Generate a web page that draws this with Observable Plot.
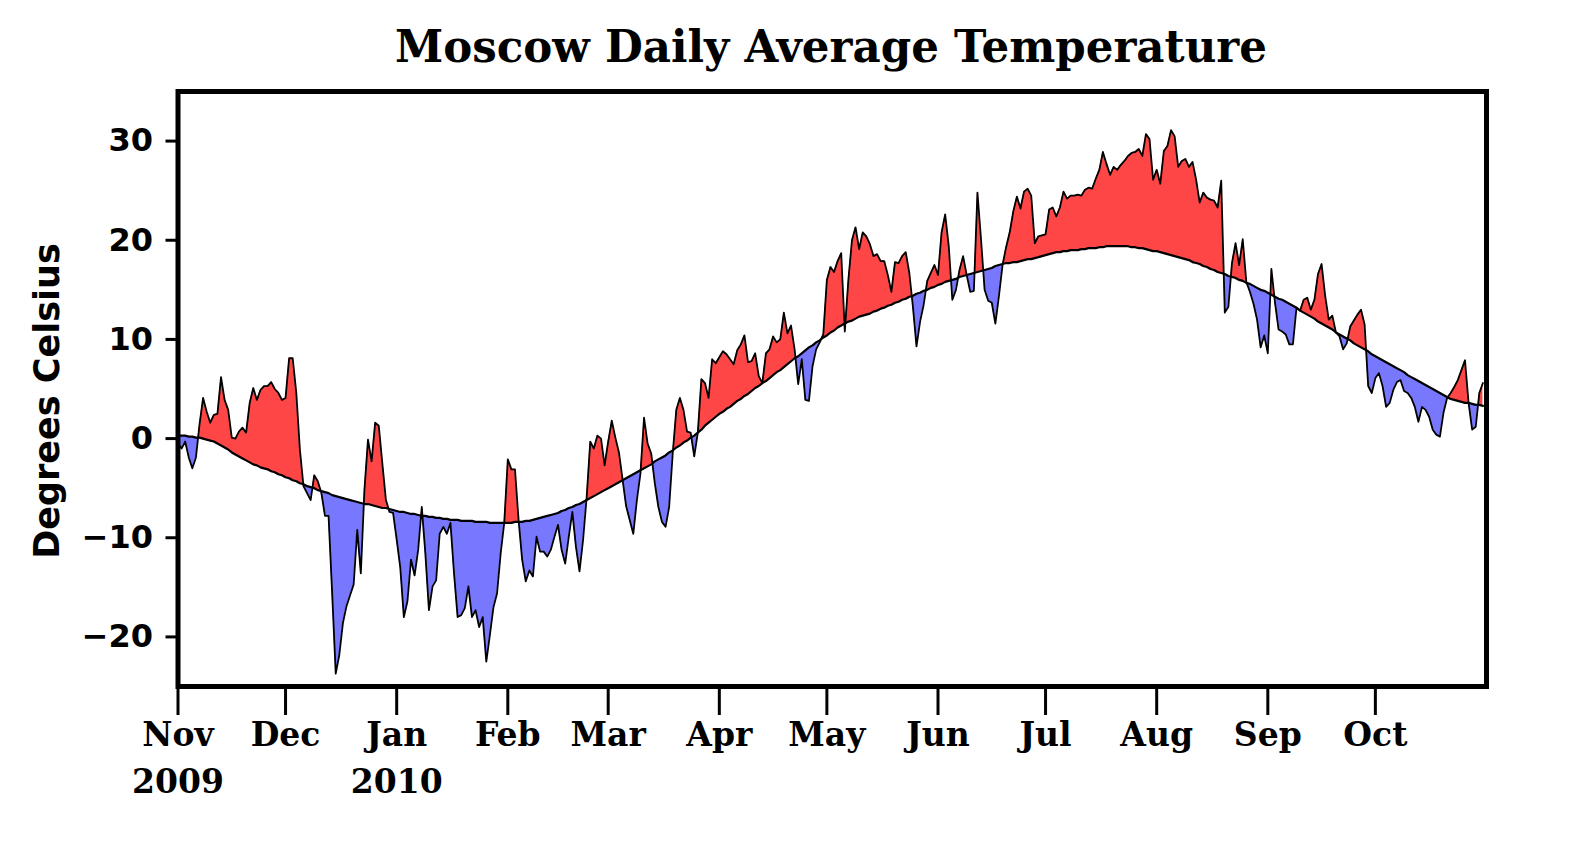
<!DOCTYPE html>
<html>
<head>
<meta charset="utf-8">
<script src="https://cdn.jsdelivr.net/npm/d3@7"></script>
<script src="https://cdn.jsdelivr.net/npm/@observablehq/plot@0.6"></script>
<style>
  html, body { margin: 0; padding: 0; background: #fff; }
  #title { height: 80px; }
  #chart svg { display: block; }
</style>
</head>
<body>
<div id="title">
  <svg width="1589" height="80">
    <text x="831" y="62" text-anchor="middle" textLength="872" lengthAdjust="spacingAndGlyphs"
          font-family="DejaVu Serif" font-weight="bold" font-size="45" fill="#000">Moscow Daily Average Temperature</text>
  </svg>
</div>
<div id="chart"></div>
<script>
// Daily mean temperature in Moscow, 1 Nov 2009 – 31 Oct 2010 (°C)
const temperature = [
  -0.5, -1.0, -0.3, -1.9, -3.0, -1.9, 1.4, 4.1, 2.7, 1.6,
  2.4, 2.5, 6.2, 3.9, 2.9, 0.1, 0.0, 0.7, 1.1, 0.6,
  3.6, 5.1, 3.9, 4.9, 5.3, 5.3, 5.7, 5.0, 4.6, 3.9,
  4.1, 8.1, 8.1, 4.6, -1.1, -4.8, -5.5, -6.2, -3.7, -4.3,
  -5.5, -7.8, -7.8, -15.6, -23.7, -21.8, -18.6, -16.9, -15.8, -14.7,
  -9.2, -13.6, -5.2, -0.1, -2.3, 1.6, 1.3, -2.5, -6.2, -7.4,
  -7.5, -10.2, -13.0, -18.0, -16.4, -12.2, -13.8, -11.2, -6.9, -11.6,
  -17.3, -14.9, -14.3, -9.6, -8.9, -9.6, -8.5, -13.6, -18.0, -17.8,
  -17.1, -14.9, -18.0, -17.3, -19.0, -18.0, -22.5, -19.8, -17.0, -15.6,
  -11.6, -8.5, -2.1, -3.1, -3.1, -8.2, -12.2, -14.4, -13.3, -13.9,
  -9.9, -11.4, -11.4, -11.9, -11.2, -9.9, -8.7, -11.2, -12.6, -9.9,
  -7.4, -10.9, -13.4, -10.2, -5.9, -0.3, -1.0, 0.3, 0.0, -2.7,
  -0.3, 1.8, 0.1, -1.4, -4.1, -6.8, -8.2, -9.6, -6.2, -3.5,
  2.1, -0.5, -1.5, -4.5, -6.9, -8.4, -8.9, -6.9, -1.5, 2.9,
  4.1, 2.9, 0.7, 0.6, -1.8, 0.6, 6.0, 5.6, 4.1, 8.0,
  7.6, 8.2, 8.8, 8.5, 8.0, 7.5, 8.9, 9.5, 10.4, 7.7,
  7.8, 8.6, 6.3, 5.6, 8.6, 9.0, 10.3, 9.7, 10.0, 12.7,
  10.6, 11.4, 9.0, 5.5, 8.0, 3.9, 3.8, 7.3, 9.0, 9.7,
  10.5, 16.0, 17.3, 16.8, 17.9, 18.7, 10.8, 16.0, 20.0, 21.3,
  19.1, 20.8, 20.4, 19.6, 18.4, 18.6, 17.9, 17.9, 16.5, 14.8,
  17.8, 17.7, 18.4, 18.8, 16.7, 13.3, 9.3, 11.8, 13.5, 15.9,
  16.7, 17.5, 16.5, 20.8, 22.6, 19.4, 14.0, 15.0, 17.0, 18.4,
  16.5, 14.8, 14.9, 24.8, 20.1, 15.0, 13.9, 13.7, 11.6, 14.4,
  17.5, 19.3, 20.8, 22.9, 24.4, 23.2, 24.9, 25.2, 24.5, 19.7,
  20.4, 20.5, 20.6, 23.1, 23.3, 22.4, 23.3, 24.9, 24.2, 24.5,
  24.5, 24.6, 24.5, 25.1, 25.3, 25.2, 26.2, 27.1, 28.9, 27.7,
  26.6, 27.4, 27.1, 27.6, 28.0, 28.5, 28.8, 28.9, 29.2, 28.5,
  30.7, 30.2, 26.1, 27.1, 25.7, 29.0, 29.5, 31.1, 30.5, 27.4,
  28.0, 28.2, 27.4, 27.9, 26.1, 23.8, 24.8, 24.3, 24.1, 24.0,
  23.3, 26.0, 12.7, 13.3, 17.7, 19.7, 17.5, 20.1, 15.8, 14.8,
  13.6, 12.0, 9.2, 10.4, 8.6, 17.1, 13.7, 11.0, 10.8, 10.5,
  9.5, 9.5, 13.2, 12.9, 14.0, 14.2, 13.0, 14.0, 16.6, 17.6,
  14.4, 12.0, 12.4, 10.7, 10.3, 9.0, 9.6, 11.3, 11.9, 12.5,
  13.0, 11.5, 5.3, 4.6, 6.1, 6.6, 5.3, 3.2, 3.6, 4.9,
  5.7, 5.9, 4.8, 4.6, 4.1, 3.2, 1.7, 3.2, 2.9, 2.2,
  0.9, 0.4, 0.2, 2.6, 4.1, 4.6, 5.2, 5.9, 6.9, 7.9,
  3.6, 0.9, 1.2, 4.6, 5.6
];

// Long-term daily climatology for the same calendar days (°C)
const climatology = [
  0.3, 0.3, 0.3, 0.2, 0.2, 0.1, 0.1, 0.0, -0.1, -0.2,
  -0.3, -0.5, -0.7, -0.9, -1.1, -1.4, -1.6, -1.8, -2.0, -2.2,
  -2.4, -2.6, -2.7, -2.9, -3.0, -3.1, -3.3, -3.4, -3.6, -3.7,
  -3.9, -4.0, -4.2, -4.3, -4.5, -4.6, -4.8, -4.9, -5.0, -5.2,
  -5.3, -5.4, -5.5, -5.7, -5.8, -5.9, -6.0, -6.1, -6.2, -6.3,
  -6.4, -6.5, -6.6, -6.6, -6.7, -6.8, -6.9, -7.0, -7.0, -7.1,
  -7.2, -7.3, -7.4, -7.4, -7.5, -7.6, -7.6, -7.7, -7.8, -7.8,
  -7.9, -7.9, -8.0, -8.0, -8.1, -8.1, -8.2, -8.2, -8.2, -8.3,
  -8.3, -8.3, -8.3, -8.4, -8.4, -8.4, -8.4, -8.5, -8.5, -8.5,
  -8.5, -8.5, -8.5, -8.5, -8.4, -8.4, -8.4, -8.3, -8.3, -8.2,
  -8.1, -8.0, -7.9, -7.8, -7.7, -7.6, -7.5, -7.3, -7.2, -7.0,
  -6.9, -6.7, -6.6, -6.4, -6.2, -6.0, -5.8, -5.6, -5.4, -5.2,
  -5.0, -4.8, -4.6, -4.4, -4.2, -4.0, -3.8, -3.6, -3.4, -3.2,
  -3.0, -2.8, -2.6, -2.3, -2.1, -1.9, -1.7, -1.4, -1.2, -0.9,
  -0.7, -0.4, -0.2, 0.1, 0.3, 0.6, 0.9, 1.3, 1.6, 1.9,
  2.2, 2.5, 2.7, 3.0, 3.2, 3.5, 3.8, 4.0, 4.3, 4.5,
  4.8, 5.1, 5.3, 5.6, 5.8, 6.1, 6.4, 6.7, 6.9, 7.2,
  7.5, 7.8, 8.1, 8.3, 8.6, 8.9, 9.2, 9.4, 9.7, 9.9,
  10.2, 10.4, 10.7, 10.9, 11.2, 11.4, 11.6, 11.8, 11.9, 12.1,
  12.3, 12.4, 12.5, 12.6, 12.8, 12.9, 13.1, 13.2, 13.4, 13.5,
  13.7, 13.8, 14.0, 14.1, 14.3, 14.4, 14.6, 14.7, 14.9, 15.0,
  15.2, 15.3, 15.5, 15.6, 15.8, 15.9, 16.0, 16.1, 16.3, 16.4,
  16.5, 16.6, 16.7, 16.8, 16.9, 17.0, 17.1, 17.2, 17.4, 17.5,
  17.6, 17.7, 17.7, 17.8, 17.8, 17.9, 18.0, 18.1, 18.1, 18.2,
  18.3, 18.4, 18.5, 18.6, 18.7, 18.8, 18.8, 18.9, 18.9, 19.0,
  19.0, 19.0, 19.1, 19.1, 19.2, 19.2, 19.2, 19.3, 19.3, 19.4,
  19.4, 19.4, 19.4, 19.4, 19.4, 19.4, 19.3, 19.3, 19.2, 19.2,
  19.1, 19.0, 18.9, 18.9, 18.8, 18.7, 18.6, 18.5, 18.4, 18.3,
  18.2, 18.1, 18.0, 17.8, 17.7, 17.6, 17.4, 17.3, 17.1, 17.0,
  16.8, 16.7, 16.6, 16.4, 16.3, 16.2, 16.0, 15.9, 15.7, 15.6,
  15.4, 15.2, 15.0, 14.9, 14.7, 14.5, 14.3, 14.1, 14.0, 13.8,
  13.6, 13.4, 13.2, 12.9, 12.7, 12.5, 12.3, 12.1, 11.8, 11.6,
  11.4, 11.2, 11.0, 10.7, 10.5, 10.3, 10.1, 9.9, 9.6, 9.4,
  9.2, 9.0, 8.8, 8.5, 8.3, 8.1, 7.9, 7.7, 7.5, 7.3,
  7.1, 6.9, 6.7, 6.4, 6.2, 6.0, 5.8, 5.6, 5.4, 5.2,
  5.0, 4.8, 4.6, 4.4, 4.2, 4.0, 3.9, 3.8, 3.7, 3.6,
  3.6, 3.5, 3.4, 3.4, 3.3
];

const monthLabels = ["Nov", "Dec", "Jan", "Feb", "Mar", "Apr", "May", "Jun", "Jul", "Aug", "Sep", "Oct"];
const yearLabels = ["2009", "", "2010", "", "", "", "", "", "", "", "", ""];
const yTicks = [-20, -10, 0, 10, 20, 30];

const DAY = 864e5;
const start = Date.UTC(2009, 10, 1);
const rows = temperature.map((t, i) => ({date: new Date(start + i * DAY), t, c: climatology[i]}));
const monthDates = monthLabels.map((_, i) => new Date(Date.UTC(2009, 10 + i, 1)));

// Insert the points where the daily series crosses the climatology, so the
// warm and cold fills meet exactly on the curve.
const band = [];
rows.forEach((r, i) => {
  band.push(r);
  const n = rows[i + 1];
  if (!n) return;
  const a = r.t - r.c, b = n.t - n.c;
  if ((a > 0 && b < 0) || (a < 0 && b > 0)) {
    const f = a / (a - b);
    const v = r.c + f * (n.c - r.c);
    band.push({date: new Date(+r.date + f * (n.date - r.date)), t: v, c: v});
  }
});

const serif = "DejaVu Serif";
const chart = Plot.plot({
  width: 1589,
  height: 765,
  marginLeft: 177.5,
  marginRight: 103,
  marginTop: 11,
  marginBottom: 159,
  x: {type: "utc", domain: [new Date(start), new Date(Date.UTC(2010, 10, 1))]},
  y: {domain: [-25, 35]},
  style: {fontFamily: "DejaVu Sans", background: "white", color: "black", overflow: "visible"},
  marks: [
    Plot.areaY(band, {x: "date", y1: "c", y2: d => Math.max(d.t, d.c), fill: "#ff4646"}),
    Plot.areaY(band, {x: "date", y1: "c", y2: d => Math.min(d.t, d.c), fill: "#7878ff"}),
    Plot.lineY(rows, {x: "date", y: "c", stroke: "black", strokeWidth: 2.2}),
    Plot.lineY(rows, {x: "date", y: "t", stroke: "black", strokeWidth: 1.8}),
    Plot.frame({stroke: "black", strokeWidth: 5}),
    Plot.axisY({ticks: yTicks, tickSize: 12, tickPadding: 13, strokeWidth: 3,
                fontSize: 32, fontWeight: "bold", fontFamily: "DejaVu Sans", label: null}),
    Plot.axisX({ticks: monthDates, tickSize: 29, strokeWidth: 3, tickFormat: () => "", label: null}),
    Plot.text(monthDates, {x: d => d, text: (d, i) => monthLabels[i], frameAnchor: "bottom", dy: 59,
                           fontSize: 33, fontWeight: "bold", fontFamily: serif}),
    Plot.text(monthDates, {x: d => d, text: (d, i) => yearLabels[i], frameAnchor: "bottom", dy: 106,
                           fontSize: 33, fontWeight: "bold", fontFamily: serif}),
    Plot.text(["Degrees Celsius"], {frameAnchor: "left", textAnchor: "middle", dx: -130, dy: 12, rotate: -90,
                                    fontSize: 35, fontWeight: "bold", fontFamily: "DejaVu Sans"})
  ]
});
document.getElementById("chart").appendChild(chart);
</script>
</body>
</html>
